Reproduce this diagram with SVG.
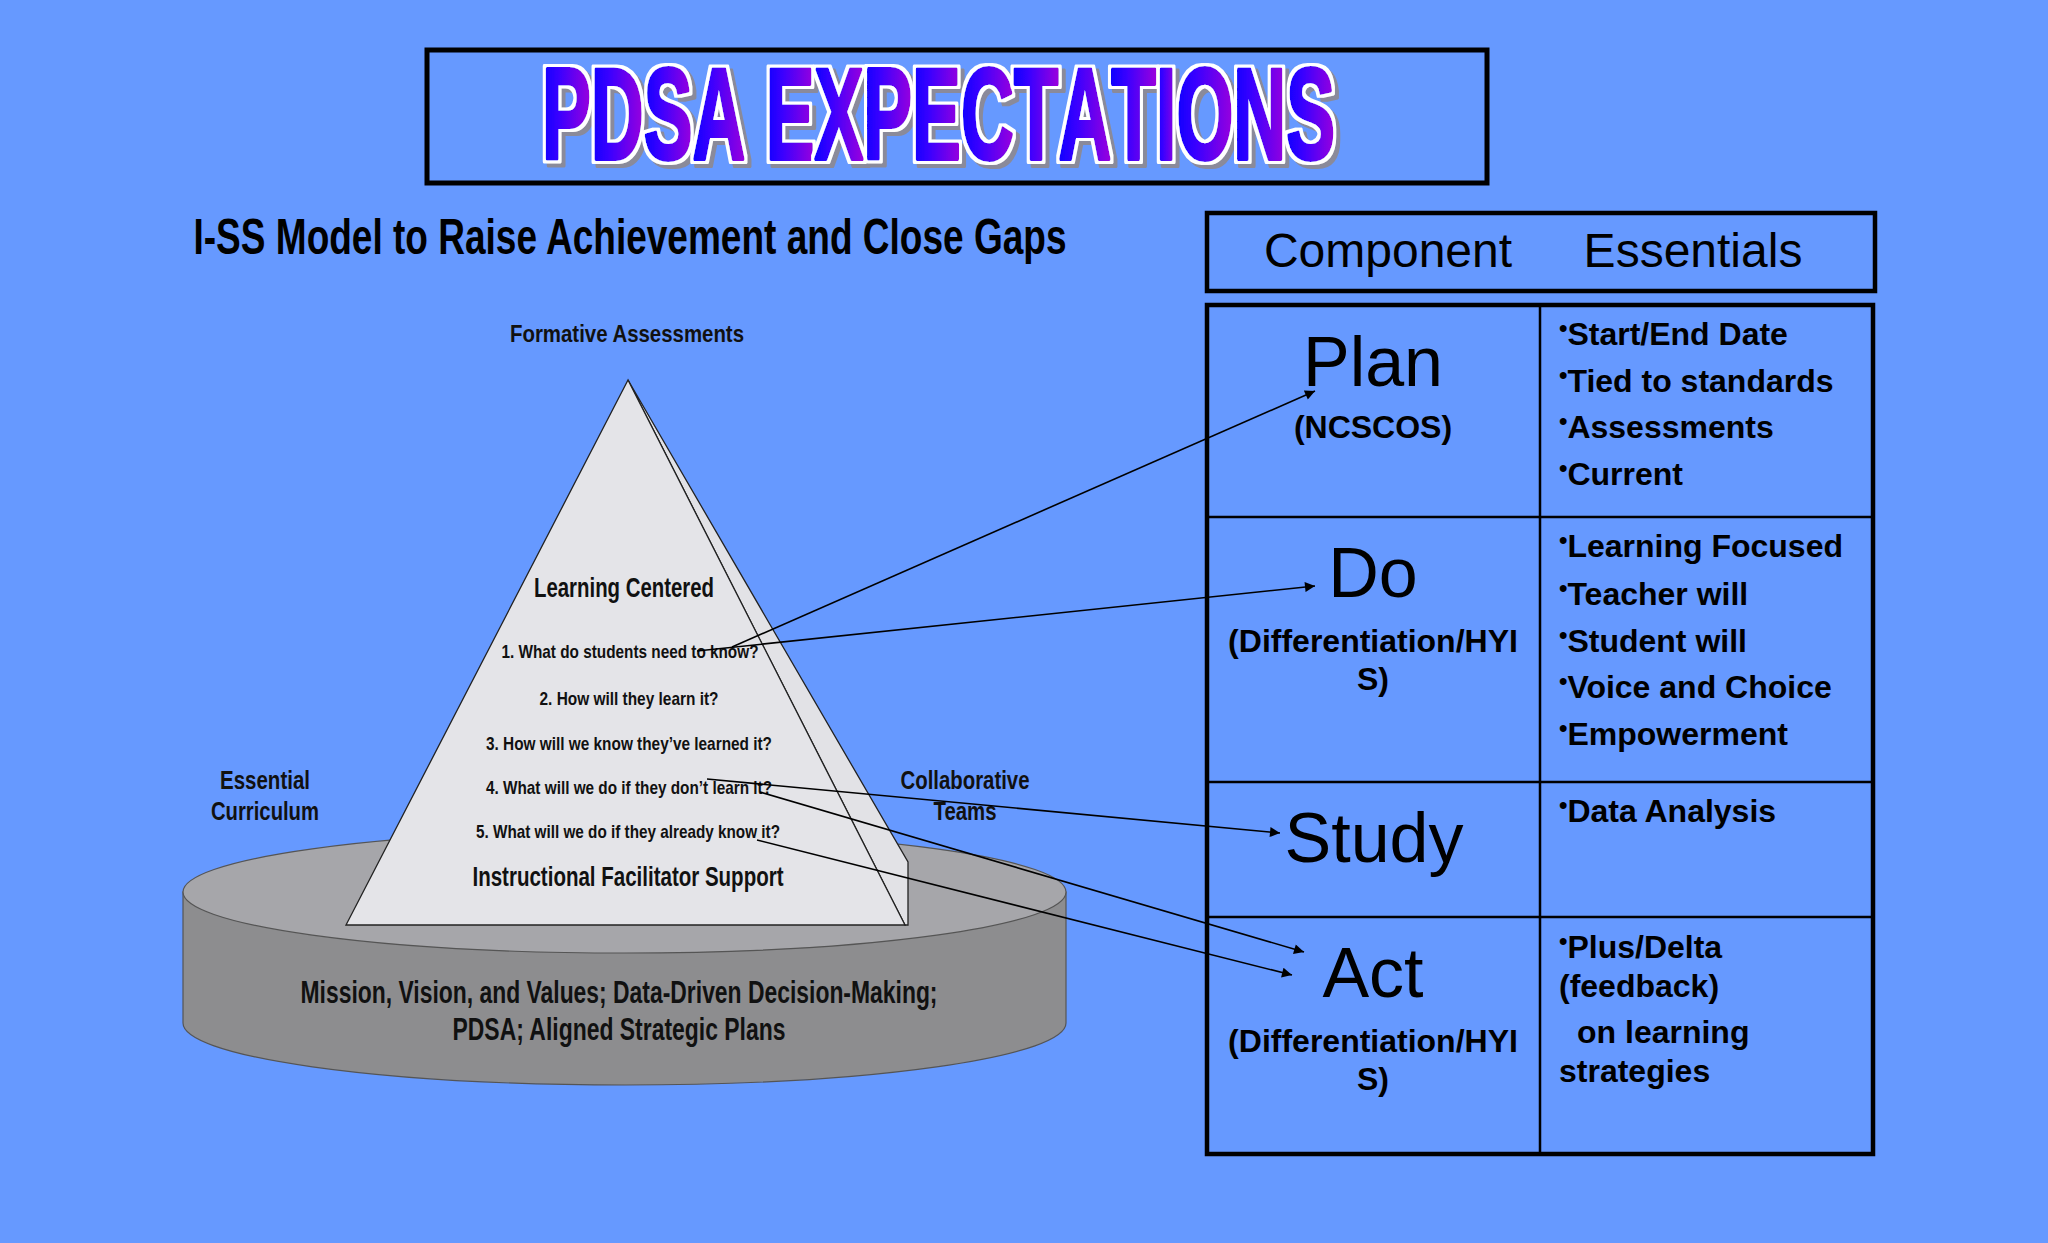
<svg xmlns="http://www.w3.org/2000/svg" width="2048" height="1243" viewBox="0 0 2048 1243">
<defs>
  <linearGradient id="tg" x1="0" y1="0" x2="1" y2="0">
    <stop offset="0" stop-color="#1000FF"/>
    <stop offset="0.35" stop-color="#3A00FF"/>
    <stop offset="1" stop-color="#9A00DD"/>
  </linearGradient>
  <filter id="tf" x="-0.3" y="-0.2" width="1.7" height="1.5">
    <feMorphology in="SourceAlpha" operator="dilate" radius="5 3" result="d"/>
    <feOffset in="d" dx="7" dy="4" result="o"/>
    <feFlood flood-color="#8a8a9a"/>
    <feComposite in2="o" operator="in" result="shadow"/>
    <feFlood flood-color="#ffffff"/>
    <feComposite in2="d" operator="in" result="white"/>
    <feMerge>
      <feMergeNode in="shadow"/>
      <feMergeNode in="white"/>
      <feMergeNode in="SourceGraphic"/>
    </feMerge>
  </filter>
  <marker id="ah" viewBox="0 0 10 10" refX="10" refY="5" markerWidth="14" markerHeight="10" markerUnits="userSpaceOnUse" orient="auto">
    <path d="M0,0 L10,5 L0,10 z" fill="#000"/>
  </marker>
  <style>
    .n { font-family: "Liberation Sans Narrow","Liberation Sans",Arial,sans-serif; font-weight: bold; fill: #111; text-anchor: middle; }
    .r { font-family: "Liberation Sans",Arial,sans-serif; fill: #000; }
    .b { font-family: "Liberation Sans",Arial,sans-serif; font-weight: bold; fill: #000; font-size: 32px; }
    .c { text-anchor: middle; }
    .tl { font-family: "Liberation Sans",Arial,sans-serif; font-weight: bold; font-size: 130px; fill: url(#tg); stroke: url(#tg); stroke-width: 4; stroke-linejoin: round; filter: url(#tf); }
    .con line { stroke: #000; stroke-width: 1.6; marker-end: url(#ah); }
  </style>
</defs>
<rect x="0" y="0" width="2048" height="1243" fill="#6699FF"/>

<g id="title">
  <rect x="427" y="50" width="1060" height="133" fill="none" stroke="#000" stroke-width="5"/>
  <g transform="translate(542,159) scale(0.563,1)">
    <text class="tl" x="0">P</text><text class="tl" x="86.7">D</text><text class="tl" x="180.6">S</text><text class="tl" x="267.3">A</text>
    <text class="tl" x="397.3">E</text><text class="tl" x="484">X</text><text class="tl" x="570.7">P</text><text class="tl" x="657.4">E</text><text class="tl" x="744.1">C</text><text class="tl" x="838">T</text><text class="tl" x="917.4">A</text><text class="tl" x="1011.3">T</text><text class="tl" x="1090.7">I</text><text class="tl" x="1126.8">O</text><text class="tl" x="1228">N</text><text class="tl" x="1321.8">S</text>
  </g>
</g>

<g id="subtitle">
  <text class="n" x="630" y="254" font-size="50" textLength="873" lengthAdjust="spacingAndGlyphs" style="fill:#000">I-SS Model to Raise Achievement and Close Gaps</text>
</g>

<g id="base-cylinder">
  <path d="M183,892 L183,1023 A441.5,62 0 0 0 1066,1023 L1066,892 Z" fill="#8d8d8f" stroke="#555" stroke-width="1.2"/>
  <ellipse cx="624.5" cy="892" rx="441.5" ry="61" fill="#a6a6aa" stroke="#555" stroke-width="1.2"/>
  <text class="n" x="619" y="1003" font-size="31" textLength="637" lengthAdjust="spacingAndGlyphs">Mission, Vision, and Values; Data-Driven Decision-Making;</text>
  <text class="n" x="619" y="1040" font-size="31" textLength="333" lengthAdjust="spacingAndGlyphs">PDSA; Aligned Strategic Plans</text>
</g>

<g id="pyramid">
  <polygon points="628,380 908,862 908,925 905,925" fill="#e2e2e6" stroke="#222" stroke-width="1.3"/>
  <polygon points="628,380 346,925 905,925" fill="#e4e4e8" stroke="#222" stroke-width="1.3"/>
  <text class="n" x="624" y="597" font-size="28" textLength="180" lengthAdjust="spacingAndGlyphs">Learning Centered</text>
  <text class="n" x="630" y="658" font-size="19" textLength="257" lengthAdjust="spacingAndGlyphs">1. What do students need to know?</text>
  <text class="n" x="629" y="705" font-size="19" textLength="179" lengthAdjust="spacingAndGlyphs">2. How will they learn it?</text>
  <text class="n" x="629" y="750" font-size="19" textLength="286" lengthAdjust="spacingAndGlyphs">3. How will we know they’ve learned it?</text>
  <text class="n" x="629" y="794" font-size="19" textLength="286" lengthAdjust="spacingAndGlyphs">4. What will we do if they don’t learn it?</text>
  <text class="n" x="628" y="838" font-size="19" textLength="304" lengthAdjust="spacingAndGlyphs">5. What will we do if they already know it?</text>
  <text class="n" x="628" y="886" font-size="27" textLength="311" lengthAdjust="spacingAndGlyphs">Instructional Facilitator Support</text>
</g>

<g id="label-formative">
  <text class="n" x="627" y="342" font-size="24" textLength="234" lengthAdjust="spacingAndGlyphs">Formative Assessments</text>
</g>
<g id="label-essential">
  <text class="n" x="265" y="789" font-size="25" textLength="90" lengthAdjust="spacingAndGlyphs">Essential</text>
  <text class="n" x="265" y="820" font-size="25" textLength="108" lengthAdjust="spacingAndGlyphs">Curriculum</text>
</g>
<g id="label-collaborative">
  <text class="n" x="965" y="789" font-size="25" textLength="129" lengthAdjust="spacingAndGlyphs">Collaborative</text>
  <text class="n" x="965" y="820" font-size="25" textLength="63" lengthAdjust="spacingAndGlyphs">Teams</text>
</g>

<g id="table-header">
  <rect x="1207" y="213" width="668" height="78" fill="none" stroke="#000" stroke-width="4.5"/>
  <text class="r c" x="1388" y="267" font-size="48">Component</text>
  <text class="r c" x="1693" y="267" font-size="48">Essentials</text>
</g>

<g id="table">
  <rect x="1207" y="305" width="666" height="849" fill="none" stroke="#000" stroke-width="4.5"/>
  <line x1="1540" y1="305" x2="1540" y2="1154" stroke="#000" stroke-width="2.5"/>
  <line x1="1207" y1="517" x2="1873" y2="517" stroke="#000" stroke-width="2.5"/>
  <line x1="1207" y1="782" x2="1873" y2="782" stroke="#000" stroke-width="2.5"/>
  <line x1="1207" y1="917" x2="1873" y2="917" stroke="#000" stroke-width="2.5"/>
</g>

<g id="row-plan">
  <text class="r c" x="1373" y="386" font-size="70">Plan</text>
  <text class="b c" x="1373" y="438">(NCSCOS)</text>
  <text class="b" x="1559" y="345"><tspan font-size="24" dy="-9">•</tspan><tspan dy="9">Start/End Date</tspan></text>
  <text class="b" x="1559" y="392"><tspan font-size="24" dy="-9">•</tspan><tspan dy="9">Tied to standards</tspan></text>
  <text class="b" x="1559" y="438"><tspan font-size="24" dy="-9">•</tspan><tspan dy="9">Assessments</tspan></text>
  <text class="b" x="1559" y="485"><tspan font-size="24" dy="-9">•</tspan><tspan dy="9">Current</tspan></text>
</g>

<g id="row-do">
  <text class="r c" x="1373" y="597" font-size="70">Do</text>
  <text class="b c" x="1373" y="652">(Differentiation/HYI</text>
  <text class="b c" x="1373" y="690">S)</text>
  <text class="b" x="1559" y="557"><tspan font-size="24" dy="-9">•</tspan><tspan dy="9">Learning Focused</tspan></text>
  <text class="b" x="1559" y="605"><tspan font-size="24" dy="-9">•</tspan><tspan dy="9">Teacher will</tspan></text>
  <text class="b" x="1559" y="652"><tspan font-size="24" dy="-9">•</tspan><tspan dy="9">Student will</tspan></text>
  <text class="b" x="1559" y="698"><tspan font-size="24" dy="-9">•</tspan><tspan dy="9">Voice and Choice</tspan></text>
  <text class="b" x="1559" y="745"><tspan font-size="24" dy="-9">•</tspan><tspan dy="9">Empowerment</tspan></text>
</g>

<g id="row-study">
  <text class="r c" x="1374" y="862" font-size="70">Study</text>
  <text class="b" x="1559" y="822"><tspan font-size="24" dy="-9">•</tspan><tspan dy="9">Data Analysis</tspan></text>
</g>

<g id="row-act">
  <text class="r c" x="1373" y="997" font-size="70">Act</text>
  <text class="b c" x="1373" y="1052">(Differentiation/HYI</text>
  <text class="b c" x="1373" y="1090">S)</text>
  <text class="b" x="1559" y="958"><tspan font-size="24" dy="-9">•</tspan><tspan dy="9">Plus/Delta</tspan></text>
  <text class="b" x="1559" y="997">(feedback)</text>
  <text class="b" x="1577" y="1043">on learning</text>
  <text class="b" x="1559" y="1082">strategies</text>
</g>

<g id="connectors" class="con">
  <line x1="732" y1="647" x2="1315" y2="391"/>
  <line x1="697" y1="651" x2="1315" y2="586"/>
  <line x1="707" y1="779" x2="1280" y2="833"/>
  <line x1="760" y1="792" x2="1304" y2="952"/>
  <line x1="757" y1="840" x2="1292" y2="975"/>
</g>
</svg>
